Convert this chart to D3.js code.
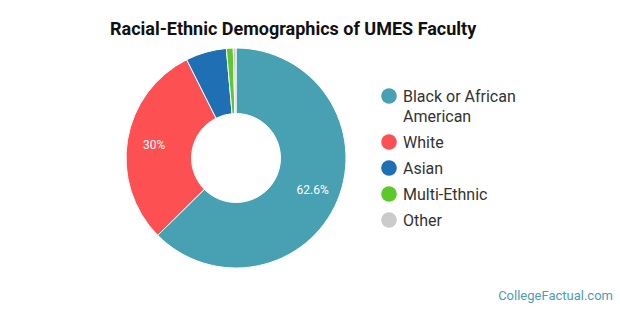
<!DOCTYPE html>
<meta charset="utf-8" />
<head>
  <style>
    body { margin: 0; background: #fff; font-family: Roboto, sans-serif; }
    .title { font-weight: bold; font-size: 18px; fill: #111; }
    .legend text { font-size: 16px; fill: #333; }
    .pct { font-size: 12px; fill: #fff; }
    .credit { font-size: 13px; fill: #4e9bb3; }
  </style>
  <script src="https://cdn.jsdelivr.net/npm/d3@7"></script>
</head>
<body>
<script>
  var categories = ["Black or African American", "White", "Asian", "Multi-Ethnic", "Other"],
    values = [62.6, 30, 6.0, 1.0, 0.4],
    colors = ["#48a0b3", "#fd5052", "#1f6fb5", "#5dc829", "#cbcbcb"],
    shownLabels = ["62.6%", "30%", "", "", ""];

  var width = 620, height = 310,
    cx = 236, cy = 158,
    outerR = 110, innerR = 44.5;

  var svg = d3.select("body").append("svg")
    .attr("width", width)
    .attr("height", height);

  svg.append("text")
    .attr("class", "title")
    .attr("x", 110)
    .attr("y", 34.5)
    .text("Racial-Ethnic Demographics of UMES Faculty");

  var pie = d3.pie().sort(null).value(function(d) { return d; });
  var arc = d3.arc().innerRadius(innerR).outerRadius(outerR);
  var labelArc = d3.arc().innerRadius(83).outerRadius(83);

  var g = svg.append("g")
    .attr("transform", "translate(" + cx + "," + cy + ")");

  var arcs = pie(values);

  g.selectAll("path")
    .data(arcs)
    .enter()
    .append("path")
    .attr("d", arc)
    .attr("fill", function(d, i) { return colors[i]; })
    .attr("stroke", "#fff")
    .attr("stroke-width", 1);

  g.selectAll("text")
    .data(arcs)
    .enter()
    .append("text")
    .attr("class", "pct")
    .attr("text-anchor", "middle")
    .attr("dy", "0.35em")
    .attr("transform", function(d) { return "translate(" + labelArc.centroid(d) + ")"; })
    .text(function(d, i) { return shownLabels[i]; });

  // legend, first entry wraps to two lines
  var legendRows = [
    { lines: ["Black or African", "American"], y: 96 },
    { lines: ["White"], y: 142 },
    { lines: ["Asian"], y: 168 },
    { lines: ["Multi-Ethnic"], y: 194 },
    { lines: ["Other"], y: 220 }
  ];

  var legend = svg.append("g").attr("class", "legend");
  var items = legend.selectAll("g")
    .data(legendRows)
    .enter()
    .append("g")
    .attr("transform", function(d) { return "translate(389," + d.y + ")"; });

  items.append("circle")
    .attr("r", 7.8)
    .attr("fill", function(d, i) { return colors[i]; });

  items.each(function(d) {
    var t = d3.select(this).append("text")
      .attr("x", 14)
      .attr("y", 5.5);
    d.lines.forEach(function(line, k) {
      t.append("tspan").attr("x", 14).attr("dy", k ? 20 : 0).text(line);
    });
  });

  svg.append("text")
    .attr("class", "credit")
    .attr("x", 613)
    .attr("y", 300)
    .attr("text-anchor", "end")
    .text("CollegeFactual.com");
</script>
</body>
